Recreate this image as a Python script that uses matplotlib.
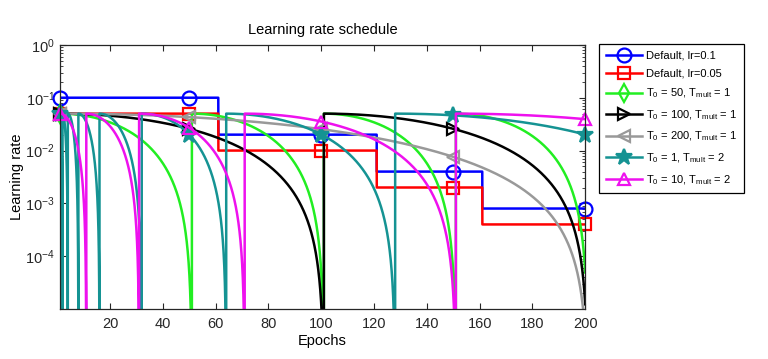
import numpy as np
import matplotlib
matplotlib.use('Agg')
import matplotlib.pyplot as plt
from matplotlib.lines import Line2D

plt.rcParams['font.family'] = ['Liberation Sans', 'DejaVu Sans']
plt.rcParams['mathtext.fontset'] = 'custom'
plt.rcParams['mathtext.rm'] = 'Liberation Sans'
plt.rcParams['mathtext.it'] = 'Liberation Sans:italic'
plt.rcParams['mathtext.default'] = 'regular'

# --- data ---
lr_max = 0.05
# step schedules: epoch where each level starts, and the level
step_epochs = [1, 61, 121, 161]
lr_default_01 = [0.1, 0.02, 0.004, 0.0008]
lr_default_005 = [0.05, 0.01, 0.002, 0.0004]
# warm restarts (epoch at which each cosine cycle begins)
restarts_t50 = [1, 51, 101, 151, 201]
restarts_t100 = [1, 101, 201]
restarts_t200 = [1, 201]
restarts_t1_x2 = [1, 2, 4, 8, 16, 32, 64, 128, 256]
restarts_t10_x2 = [1, 11, 31, 71, 151, 311]
# epochs carrying a visible marker
marks_default = [1, 50, 100, 150, 200]
marks_t50 = [1]
marks_t100 = [1, 50, 150]
marks_t200 = [1, 50, 100, 150]
marks_t1_x2 = [1, 50, 100, 150, 200]
marks_t10_x2 = [1, 50, 100, 200]

labels = ['Default, lr=0.1', 'Default, lr=0.05',
          '$T_0$ = 50, $T_{mult}$ = 1', '$T_0$ = 100, $T_{mult}$ = 1',
          '$T_0$ = 200, $T_{mult}$ = 1', '$T_0$ = 1, $T_{mult}$ = 2',
          '$T_0$ = 10, $T_{mult}$ = 2']
xtick_vals = [20, 40, 60, 80, 100, 120, 140, 160, 180, 200]

batches = 391  # per epoch
epochs = 1 + np.arange(199 * batches + 1) / batches


def step_sched(starts, levels):
    k = np.searchsorted(starts, epochs, side='right') - 1
    return np.asarray(levels)[k]


def cosine_sched(restarts):
    r = np.asarray(restarts, float)
    k = np.searchsorted(r, epochs, side='right') - 1
    t_cur = epochs - r[k]
    t_i = r[k + 1] - r[k]
    return 0.5 * lr_max * (1 + np.cos(np.pi * t_cur / t_i))


series = [
    (step_sched(step_epochs, lr_default_01), marks_default, 'b', 'o', 10, 'none'),
    (step_sched(step_epochs, lr_default_005), marks_default, 'r', 's', 8, 'none'),
    (cosine_sched(restarts_t50), marks_t50, '#22ee22', 'd', 9, 'none'),
    (cosine_sched(restarts_t100), marks_t100, 'k', '>', 9, 'none'),
    (cosine_sched(restarts_t200), marks_t200, '#999999', '<', 9, 'none'),
    (cosine_sched(restarts_t1_x2), marks_t1_x2, '#159393', '*', 12, '#159393'),
    (cosine_sched(restarts_t10_x2), marks_t10_x2, '#ee11ee', '^', 9, 'none'),
]

fig = plt.figure(figsize=(7.68, 3.59), dpi=100)
ax = fig.add_axes([0.078, 0.139, 0.684, 0.736])

handles = []
for (y, marks, c, m, ms, fc), lab in zip(series, labels):
    ax.plot(epochs, y, color=c, lw=1.8)
    idx = [(e - 1) * batches for e in marks]
    ax.plot(epochs[idx], y[idx], ls='none', marker=m, ms=ms, mfc=fc,
            mec=c, mew=1.6, clip_on=False)
    handles.append(Line2D([], [], color=c, lw=1.8, marker=m, ms=ms,
                          mfc=fc, mec=c, mew=1.6, label=lab))

ax.set_yscale('log')
ax.set_xlim(1, 200)
ax.set_ylim(1e-5, 1)
ax.set_xticks(xtick_vals)
ax.set_yticks([1e-4, 1e-3, 1e-2, 1e-1, 1])
ax.tick_params(which='both', direction='in', top=True, right=True,
               labelsize=10.5, colors='#262626')
ax.tick_params(axis='x', pad=6)
ax.tick_params(which='major', length=4)
ax.tick_params(which='minor', length=2.2)
for s in ax.spines.values():
    s.set_color('#262626')
    s.set_linewidth(0.9)

ax.set_title('Learning rate schedule', fontsize=10.5, pad=8)
ax.set_xlabel('Epochs', fontsize=10.5, labelpad=2)
ax.set_ylabel('Learning rate', fontsize=10.5, labelpad=1)

leg = fig.legend(handles=handles, loc='upper left',
                 bbox_to_anchor=(599 / 768, 1 - 44 / 359), borderaxespad=0,
                 fontsize=8, fancybox=False, edgecolor='k', framealpha=1,
                 handlelength=3.3, labelspacing=0.72, numpoints=1,
                 borderpad=0.6, handletextpad=0.3)
leg.get_frame().set_linewidth(0.9)

fig.savefig('out.png', dpi=100)
